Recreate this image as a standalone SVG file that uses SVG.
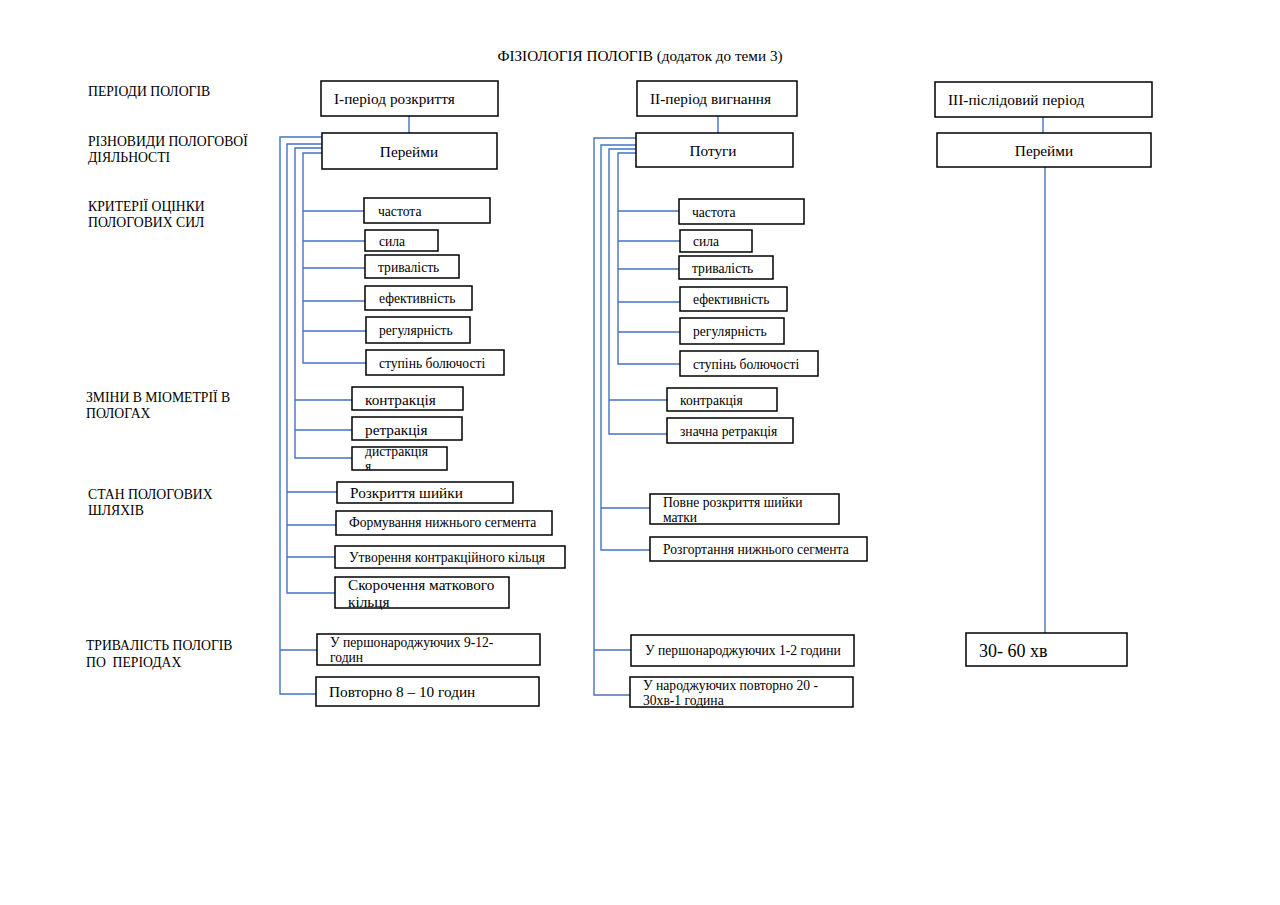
<svg xmlns="http://www.w3.org/2000/svg" width="1280" height="905" viewBox="0 0 1280 905">
<style>
text{font-family:"Liberation Serif","Times New Roman",serif;fill:#000}
.b rect{fill:#fff;stroke:#000;stroke-width:1.5}
.lbl{font-size:13.7px}
.s13{font-size:13.6px}
.s15{font-size:15.3px}
.s16{font-size:15.2px}
.c{text-anchor:middle}
#connectors path{fill:none;stroke:#4472C4;stroke-width:1.4}
</style>
<defs>
<clipPath id="clipD"><rect x="352" y="447" width="95" height="23"/></clipPath>
</defs>
<rect width="1280" height="905" fill="#fff"/>
<text x="640" y="61" class="s16 c">ФІЗІОЛОГІЯ ПОЛОГІВ (додаток до теми 3)</text>
<g id="labels" class="lbl">
<text x="88" y="96">ПЕРІОДИ ПОЛОГІВ</text>
<text x="88" y="146">РІЗНОВИДИ ПОЛОГОВОЇ</text>
<text x="88" y="162">ДІЯЛЬНОСТІ</text>
<text x="88" y="211">КРИТЕРІЇ ОЦІНКИ</text>
<text x="88" y="227">ПОЛОГОВИХ СИЛ</text>
<text x="86" y="402">ЗМІНИ В МІОМЕТРІЇ В</text>
<text x="86" y="418">ПОЛОГАХ</text>
<text x="88" y="499">СТАН ПОЛОГОВИХ</text>
<text x="88" y="515">ШЛЯХІВ</text>
<text x="86" y="650">ТРИВАЛІСТЬ ПОЛОГІВ</text>
<text x="86" y="667" xml:space="preserve">ПО  ПЕРІОДАХ</text>
</g>
<g id="connectors">
<path d="M409 116V133M718 116V133M1043 117V133M1045 167V633"/>
<path d="M322 137H280V694H316M280 650H317"/>
<path d="M322 144H287V593H335M287 492H337M287 525H336M287 557H335"/>
<path d="M322 148H295V458H352M295 400H352M295 430H352"/>
<path d="M322 153H303V363H366M303 211H364M303 241H365M303 268H365M303 301H365M303 331H366"/>
<path d="M636 138H594V695H630M594 650H631"/>
<path d="M636 145H601V550H650M601 508H650"/>
<path d="M636 149H609V434H667M609 400H667"/>
<path d="M636 153H618V364H680M618 211H679M618 241H680M618 269H679M618 302H680M618 332H680"/>
</g>
<g id="n-period1" class="b"><rect x="321" y="81" width="177" height="35"/><text x="334" y="104" class="s15">І-період розкриття</text></g>
<g id="n-pereimy1" class="b"><rect x="322" y="133" width="175" height="36"/><text x="409" y="157" class="s15 c">Перейми</text></g>
<g id="n-chastota1" class="b"><rect x="364" y="198" width="126" height="25"/><text x="378" y="216" class="s13">частота</text></g>
<g id="n-syla1" class="b"><rect x="365" y="230" width="73" height="21"/><text x="379" y="246" class="s13">сила</text></g>
<g id="n-tryv1" class="b"><rect x="365" y="255" width="94" height="23"/><text x="378" y="272" class="s13">тривалість</text></g>
<g id="n-efekt1" class="b"><rect x="365" y="286" width="107" height="24"/><text x="379" y="303" class="s13">ефективність</text></g>
<g id="n-reg1" class="b"><rect x="366" y="317" width="104" height="26"/><text x="379" y="335" class="s13">регулярність</text></g>
<g id="n-bol1" class="b"><rect x="366" y="350" width="138" height="25"/><text x="379" y="368" class="s13">ступінь болючості</text></g>
<g id="n-kontr1" class="b"><rect x="352" y="387" width="111" height="23"/><text x="365" y="405" class="s15">контракція</text></g>
<g id="n-retr1" class="b"><rect x="352" y="417" width="110" height="23"/><text x="365" y="435" class="s15">ретракція</text></g>
<g id="n-dystr1" class="b"><rect x="352" y="447" width="95" height="23"/><g clip-path="url(#clipD)"><text x="365" y="456" class="s13">дистракція</text><text x="365" y="471" class="s13">я</text></g></g>
<g id="n-rozkr1" class="b"><rect x="337" y="482" width="176" height="21"/><text x="350" y="498" class="s15">Розкриття шийки</text></g>
<g id="n-form1" class="b"><rect x="336" y="511" width="216" height="24"/><text x="349" y="527" class="s13">Формування нижнього сегмента</text></g>
<g id="n-utv1" class="b"><rect x="335" y="546" width="230" height="22"/><text x="349" y="562" class="s13">Утворення контракційного кільця</text></g>
<g id="n-skor1" class="b"><rect x="335" y="577" width="174" height="31"/><text x="348" y="590" class="s15">Скорочення маткового</text><text x="348" y="607" class="s15">кільця</text></g>
<g id="n-persh1" class="b"><rect x="317" y="634" width="223" height="31"/><text x="330" y="647" class="s13">У першонароджуючих 9-12-</text><text x="330" y="662" class="s13">годин</text></g>
<g id="n-povt1" class="b"><rect x="316" y="677" width="223" height="29"/><text x="329" y="697" class="s15">Повторно 8 – 10 годин</text></g>
<g id="n-period2" class="b"><rect x="637" y="81" width="160" height="35"/><text x="650" y="104" class="s15">ІІ-період вигнання</text></g>
<g id="n-potugy" class="b"><rect x="636" y="133" width="157" height="34"/><text x="713" y="156" class="s15 c">Потуги</text></g>
<g id="n-chastota2" class="b"><rect x="679" y="199" width="125" height="25"/><text x="692" y="217" class="s13">частота</text></g>
<g id="n-syla2" class="b"><rect x="680" y="230" width="72" height="22"/><text x="693" y="246" class="s13">сила</text></g>
<g id="n-tryv2" class="b"><rect x="679" y="256" width="94" height="23"/><text x="692" y="273" class="s13">тривалість</text></g>
<g id="n-efekt2" class="b"><rect x="680" y="287" width="107" height="24"/><text x="693" y="304" class="s13">ефективність</text></g>
<g id="n-reg2" class="b"><rect x="680" y="318" width="104" height="26"/><text x="693" y="336" class="s13">регулярність</text></g>
<g id="n-bol2" class="b"><rect x="680" y="351" width="138" height="25"/><text x="693" y="369" class="s13">ступінь болючості</text></g>
<g id="n-kontr2" class="b"><rect x="667" y="388" width="110" height="23"/><text x="680" y="405" class="s13">контракція</text></g>
<g id="n-retr2" class="b"><rect x="667" y="418" width="126" height="25"/><text x="680" y="436" class="s13">значна ретракція</text></g>
<g id="n-povne2" class="b"><rect x="650" y="494" width="189" height="30"/><text x="663" y="507" class="s13">Повне розкриття шийки</text><text x="663" y="522" class="s13">матки</text></g>
<g id="n-rozg2" class="b"><rect x="650" y="537" width="217" height="24"/><text x="663" y="554" class="s13">Розгортання нижнього сегмента</text></g>
<g id="n-persh2" class="b"><rect x="631" y="635" width="223" height="31"/><text x="645" y="655" class="s13">У першонароджуючих 1-2 години</text></g>
<g id="n-povt2" class="b"><rect x="630" y="677" width="223" height="30"/><text x="643" y="690" class="s13">У народжуючих повторно 20 -</text><text x="643" y="705" class="s13">30хв-1 година</text></g>
<g id="n-period3" class="b"><rect x="935" y="82" width="217" height="35"/><text x="948" y="105" class="s15">ІІІ-післідовий період</text></g>
<g id="n-pereimy3" class="b"><rect x="937" y="133" width="214" height="34"/><text x="1044" y="156" class="s15 c">Перейми</text></g>
<g id="n-30-60" class="b"><rect x="966" y="633" width="161" height="33"/><text x="979" y="657" style="font-size:18px">30- 60 хв</text></g>
</svg>
